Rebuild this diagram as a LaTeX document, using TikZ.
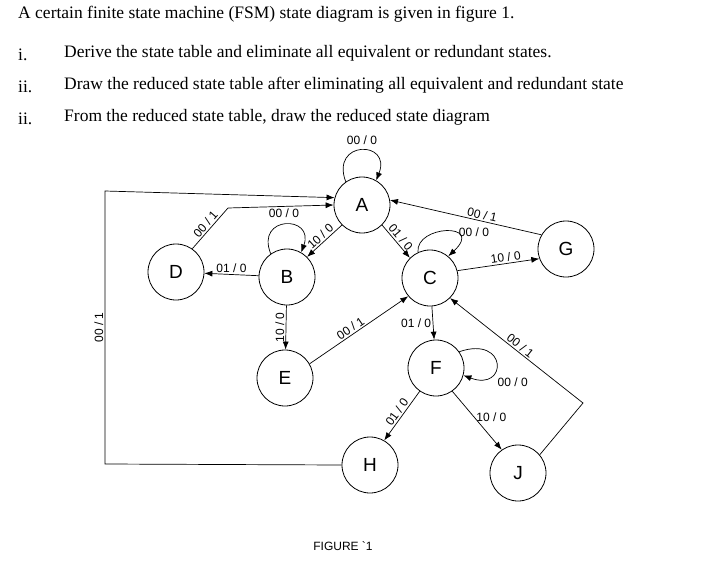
\documentclass[tikz,border=0pt]{standalone}
\usepackage{fontspec}
\setmainfont{Liberation Serif}
\newfontfamily\dsf{Liberation Sans}
\usetikzlibrary{arrows.meta}
\begin{document}
\begin{tikzpicture}[x=1pt,y=-1pt,
 st/.style={circle,draw,line width=0.8pt,minimum size=56pt,inner sep=0pt,font=\dsf\fontsize{19}{19}\selectfont},
 tr/.style={draw,line width=0.7pt,-{Latex[length=8pt,width=6pt]}},
 lb/.style={font=\dsf\fontsize{12}{12}\selectfont,inner sep=1.5pt},
 tx/.style={font=\fontsize{17.5}{19}\selectfont,anchor=west,inner sep=0pt}]
\useasboundingbox[fill=white] (0,0) rectangle (725,567);
\node[tx] (t0) at (18,14) {A certain finite state machine (FSM) state diagram is given in figure 1.};
\node[tx] (r1) at (18,55) {i.};
\node[tx] (t1) at (64,53) {Derive the state table and eliminate all equivalent or redundant states.};
\node[tx] (r2) at (18,87) {ii.};
\node[tx] (t2) at (64,85) {Draw the reduced state table after eliminating all equivalent and redundant state};
\node[tx] (r3) at (18,119) {ii.};
\node[tx] (t3) at (64,117) {From the reduced state table, draw the reduced state diagram};

\node[st] (A) at (362,205) {A};
\node[st] (B) at (287,277) {B};
\node[st] (D) at (176,272) {D};
\node[st] (C) at (430,278) {C};
\node[st] (G) at (566,249) {G};
\node[st] (E) at (285,378) {E};
\node[st] (F) at (436,368) {F};
\node[st] (H) at (370,465) {H};
\node[st] (J) at (518,473) {J};

\draw[tr] (A.125) .. controls (330,140) and (392,140) .. (A.60);
\node[lb] (lA) at (362,140) {00 / 0};
\draw[tr] (B.125) .. controls (255,215) and (315,215) .. (B.60);
\node[lb] (lB) at (284,213) {00 / 0};
\draw[tr] (C.115) .. controls (415,225) and (485,222) .. (C.50);
\node[lb] (lC) at (474,232) {00 / 0};
\draw[tr] (F.35) .. controls (508,335) and (508,392) .. (F.345);
\node[lb,anchor=west] (lF) at (496,382) {00 / 0};

\draw[tr] (A.225) -- node[lb,sloped,above] {10 / 0} (B.45);
\draw[tr] (B) -- node[lb,above] {01 / 0} (D);
\draw[tr] (B) -- node[lb,rotate=90,above] {10 / 0} (E);
\draw[tr] (D.55) -- node[lb,sloped,above] {00 / 1} (228,208) -- (A.180);
\draw[tr] (A.315) -- node[lb,sloped,above] {01 / 0} (C.135);
\draw[tr] (G.150) -- node[lb,sloped,above,pos=0.4] {00 / 1} (A.10);
\draw[tr] (C.15) -- node[lb,sloped,above,pos=0.6] {10 / 0} (G.200);
\draw[tr] (E.30) -- node[lb,sloped,above,pos=0.45] {00 / 1} (C.220);
\draw[tr] (C) -- node[lb,left] {01 / 0} (F);
\draw[tr] (F.235) -- node[lb,sloped,above] {01 / 0} (H.60);
\draw[tr] (F.305) -- node[lb,right,pos=0.45] {10 / 0} (J.125);
\draw[tr] (J.40) -- (583,403) -- node[lb,sloped,above] {00 / 1} (C.315);
\draw[tr] (H.180) -- (105,464) -- node[lb,sloped,above] {00 / 1} (105,191) -- (A.165);

\node[font=\dsf\fontsize{12}{12}\selectfont] (fig) at (343,546) {FIGURE `1};
\end{tikzpicture}
\end{document}
